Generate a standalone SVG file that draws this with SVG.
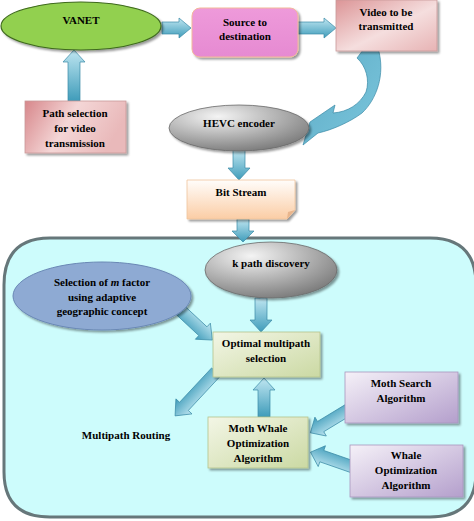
<svg xmlns="http://www.w3.org/2000/svg" width="474" height="521" viewBox="0 0 474 521">
<defs>
<style>
.t{font-family:"Liberation Serif","Times New Roman",serif;font-weight:bold;font-size:11px;fill:#000;text-anchor:middle}
.a{fill:url(#ga);stroke:#3a8aa6;stroke-width:0.7}
.b{filter:url(#sh)}
</style>
<linearGradient id="ga" x1="0" y1="0" x2="0" y2="1"><stop offset="0" stop-color="#bfe6f1"/><stop offset="1" stop-color="#3f9cba"/></linearGradient>
<linearGradient id="gcurve" x1="0" y1="0" x2="1" y2="1"><stop offset="0" stop-color="#5ba9c4"/><stop offset="1" stop-color="#7cc7dd"/></linearGradient>
<linearGradient id="gpink" x1="0" y1="0" x2="1" y2="1"><stop offset="0" stop-color="#dc9597"/><stop offset="0.55" stop-color="#f5dede"/><stop offset="1" stop-color="#e7b3b4"/></linearGradient>
<linearGradient id="gpath" x1="0" y1="0" x2="1" y2="0.3"><stop offset="0" stop-color="#d7878b"/><stop offset="0.5" stop-color="#f4d6d6"/><stop offset="1" stop-color="#e9b9ba"/></linearGradient>
<linearGradient id="gbit" x1="0" y1="0" x2="0" y2="1"><stop offset="0" stop-color="#fffdfb"/><stop offset="1" stop-color="#fbcda5"/></linearGradient>
<linearGradient id="ggreen" x1="0" y1="0" x2="1" y2="1"><stop offset="0" stop-color="#f3f6e6"/><stop offset="1" stop-color="#cbd9a3"/></linearGradient>
<linearGradient id="gpurp" x1="0" y1="0" x2="1" y2="1"><stop offset="0" stop-color="#f5f1f8"/><stop offset="1" stop-color="#b49fcc"/></linearGradient>
<radialGradient id="ggray" cx="0.35" cy="0.25" r="0.8"><stop offset="0" stop-color="#f4f4f4"/><stop offset="1" stop-color="#7a7a7a"/></radialGradient>
<linearGradient id="gsrc" x1="0" y1="0" x2="0" y2="1"><stop offset="0" stop-color="#ee9ada"/><stop offset="1" stop-color="#e68ad2"/></linearGradient>
<filter id="sh" x="-10%" y="-10%" width="125%" height="130%"><feDropShadow dx="2" dy="2" stdDeviation="1.2" flood-color="#000" flood-opacity="0.4"/></filter>
</defs>
<rect width="474" height="521" fill="#fff"/>

<g id="container">
<path d="M4,285 Q4,238 50,238 L430,238 Q476,238 476,285 L476,472 Q476,517 430,517 L50,517 Q4,517 4,472 Z" fill="#cdfcfc" stroke="#66777a" stroke-width="3"/>
</g>

<g id="connectors">
<path class="a" d="M162,22 L179,22 L179,18 L191,28 L179,38 L179,34 L162,34 Z"/>
<path class="a" d="M297,22 L324,22 L324,18 L336,28 L324,38 L324,34 L297,34 Z"/>
<path class="a" d="M68,101 L68,62 L63,62 L74,50 L85,62 L80,62 L80,101 Z"/>
<path class="a" d="M233,150 L233,168 L228,168 L239,180 L250,168 L245,168 L245,150 Z"/>
<path class="a" d="M237,219 L237,231 L232,231 L243,242 L254,231 L249,231 L249,219 Z"/>
<path class="a" d="M255,298 L255,320 L250,320 L261,332 L272,320 L267,320 L267,298 Z"/>
<path class="a" transform="translate(178,308) rotate(43)" d="M0,-6 L34,-6 L34,-11 L47,0 L34,11 L34,6 L0,6 Z"/>
<path class="a" transform="translate(216,372) rotate(133)" d="M0,-6 L47,-6 L47,-11 L60,0 L47,11 L47,6 L0,6 Z"/>
<path class="a" d="M258,417 L258,390 L253,390 L264,378 L275,390 L270,390 L270,417 Z"/>
<path class="a" transform="translate(348,410) rotate(148.8)" d="M0,-6 L32,-6 L32,-11 L44,0 L32,11 L32,6 L0,6 Z"/>
<path class="a" transform="translate(353,467) rotate(-160.8)" d="M0,-6 L33,-6 L33,-11 L45,0 L33,11 L33,6 L0,6 Z"/>
<path d="M372,38 L357,58 C366,66 370,80 366,92 C360,104 348,112 333,113 L335,105 L310,122 L303,145 L318,133 C332,130 350,122 362,113 C376,100 386,75 378,48 Z" fill="url(#gcurve)" stroke="#3a8aa6" stroke-width="0.7"/>
</g>

<g id="vanet">
<ellipse class="b" cx="81" cy="26" rx="80" ry="24" fill="#92d050" stroke="#3f6a1e" stroke-width="1.2"/>
<text class="t" x="81" y="24" font-size="13">VANET</text>
</g>

<g id="source">
<rect class="b" x="192" y="8" width="106" height="49" rx="8" fill="url(#gsrc)" stroke="#f3b89a" stroke-width="1"/>
<text class="t" x="245" y="26">Source to</text>
<text class="t" x="245" y="40">destination</text>
</g>

<g id="video">
<rect class="b" x="336" y="0" width="101" height="51" fill="url(#gpink)" stroke="#c99a9a" stroke-width="0.8"/>
<text class="t" x="386" y="16">Video to be</text>
<text class="t" x="386" y="30">transmitted</text>
</g>

<g id="path-selection">
<rect class="b" x="25" y="101" width="101" height="52" fill="url(#gpath)" stroke="#c99a9a" stroke-width="0.8"/>
<text class="t" x="75" y="117">Path selection</text>
<text class="t" x="75" y="132">for video</text>
<text class="t" x="75" y="147">transmission</text>
</g>

<g id="hevc">
<ellipse class="b" cx="239" cy="128" rx="70" ry="23" fill="url(#ggray)" stroke="#6a6a6a" stroke-width="0.8"/>
<text class="t" x="239" y="127">HEVC encoder</text>
</g>

<g id="bitstream">
<path class="b" d="M187,180 L295,180 L295,210 L287,219 L187,219 Z" fill="url(#gbit)" stroke="#f0c49c" stroke-width="0.8"/>
<path d="M295,210 L288,212 L287,219 Z" fill="#e9b58c"/>
<text class="t" x="241" y="196">Bit Stream</text>
</g>

<g id="kpath">
<ellipse class="b" cx="271" cy="270" rx="66" ry="28" fill="url(#ggray)" stroke="#6a6a6a" stroke-width="0.8"/>
<text class="t" x="271" y="267">k path discovery</text>
</g>

<g id="selection-m">
<ellipse class="b" cx="102" cy="296" rx="89" ry="34" fill="#8eaad3" stroke="#6a88b5" stroke-width="1"/>
<text class="t" x="102" y="286">Selection of <tspan font-style="italic">m</tspan> factor</text>
<text class="t" x="102" y="301">using adaptive</text>
<text class="t" x="102" y="315">geographic concept</text>
</g>

<g id="optimal">
<rect class="b" x="213" y="332" width="107" height="45" fill="url(#ggreen)" stroke="#b5c38d" stroke-width="0.8"/>
<text class="t" x="266" y="347">Optimal multipath</text>
<text class="t" x="266" y="362">selection</text>
</g>

<g id="moth-whale">
<rect class="b" x="208" y="417" width="100" height="51" fill="url(#ggreen)" stroke="#b5c38d" stroke-width="0.8"/>
<text class="t" x="258" y="432">Moth Whale</text>
<text class="t" x="258" y="447">Optimization</text>
<text class="t" x="258" y="462">Algorithm</text>
</g>

<g id="moth-search">
<rect class="b" x="345" y="372" width="113" height="51" fill="url(#gpurp)" stroke="#a897be" stroke-width="0.8"/>
<text class="t" x="401" y="387">Moth Search</text>
<text class="t" x="401" y="402">Algorithm</text>
</g>

<g id="whale">
<rect class="b" x="350" y="445" width="113" height="52" fill="url(#gpurp)" stroke="#a897be" stroke-width="0.8"/>
<text class="t" x="406" y="459">Whale</text>
<text class="t" x="406" y="474">Optimization</text>
<text class="t" x="406" y="489">Algorithm</text>
</g>

<g id="multipath-routing">
<text class="t" x="126" y="439">Multipath Routing</text>
</g>
</svg>
